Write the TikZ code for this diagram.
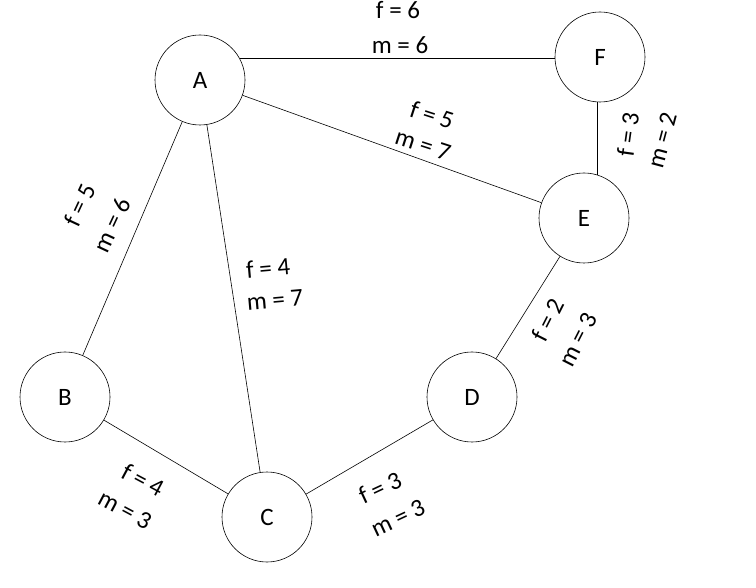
\documentclass[tikz,border=0pt]{standalone}
\usepackage{fontspec}
\setmainfont{Carlito}
\begin{document}
\begin{tikzpicture}[x=1pt,y=-1pt,
  v/.style={circle,draw,line width=0.6pt,minimum size=90pt,inner sep=0pt,font=\fontsize{25}{30}\selectfont},
  l/.style={font=\fontsize{25}{30}\selectfont,inner sep=0pt},
  e/.style={line width=0.6pt}]
\useasboundingbox (0,0) rectangle (756,588);
\node[v] (A) at (200,80) {A};
\node[v] (F) at (600,57) {F};
\node[v] (E) at (584,218) {E};
\node[v] (D) at (472,397) {D};
\node[v] (B) at (65,397) {B};
\node[v] (C) at (267,517) {C};
\draw[e] (A.29)--(A.29 -| F.west); \draw[e] (A)--(E); \draw[e] (A)--(B); \draw[e] (A)--(C);
\draw[e] (E.73)--(E.73 |- F.south); \draw[e] (E)--(D); \draw[e] (B)--(C); \draw[e] (C)--(D);
\node[l] (l1) at (398,10) {f = 6};
\node[l] (l2) at (400,45) {m = 6};
\node[l,rotate=-18] (l3) at (432,115) {f = 5};
\node[l,rotate=-18] (l4) at (423,145) {m = 7};
\node[l,rotate=65] (l5) at (80,205) {f = 5};
\node[l,rotate=65] (l6) at (112,225) {m = 6};
\node[l,rotate=5] (l7) at (268,268) {f = 4};
\node[l,rotate=5] (l8) at (275,300) {m = 7};
\node[l,rotate=82] (l9) at (628,135) {f = 3};
\node[l,rotate=75] (l10) at (662,140) {m = 2};
\node[l,rotate=63] (l11) at (548,320) {f = 2};
\node[l,rotate=63] (l12) at (578,340) {m = 3};
\node[l,rotate=-28] (l13) at (143,480) {f = 4};
\node[l,rotate=-28] (l14) at (125,510) {m = 3};
\node[l,rotate=25] (l15) at (380,488) {f = 3};
\node[l,rotate=25] (l16) at (398,518) {m = 3};
\end{tikzpicture}
\end{document}
